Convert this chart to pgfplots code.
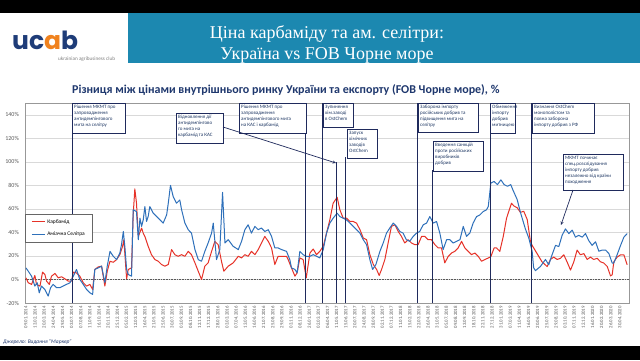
\documentclass[border=0pt]{standalone}
\usepackage{pgfplots}
\pgfplotsset{compat=1.18}
\usepackage{pgfplotstable}
\usetikzlibrary{arrows.meta}
\usepackage{fontspec}
\setmainfont{Carlito}
\newfontfamily\titlefont{Liberation Serif}
\newfontfamily\logofont{Poppins}
\definecolor{cred}{RGB}{230,50,40}
\definecolor{cblue}{RGB}{46,112,186}
\definecolor{navy}{RGB}{31,42,92}
\definecolor{boxtext}{RGB}{31,56,100}
\definecolor{titlebg}{RGB}{28,136,176}
\definecolor{subtc}{RGB}{31,56,110}
\definecolor{ticktc}{RGB}{89,89,89}
\definecolor{gridc}{RGB}{217,217,217}
\definecolor{logonavy}{RGB}{30,60,120}
\definecolor{logoorange}{RGB}{240,130,30}

\pgfplotstableread{
x y
0 1.4
1.3 -2.8
3.1 -4.2
4.9 3.4
5.8 -4.2
7.7 -5.6
9.1 6.2
10.4 4.2
11.3 -1.4
12.8 -4.2
14.0 2.8
15.9 5.1
17.7 1.4
19.5 2.3
21.3 0.6
23.2 -1.4
25.0 -1.4
25.9 6.2
27.7 5.6
29.5 2.8
31.4 -2.8
33.2 -5.6
35.0 -4.2
36.5 -8.5
37.7 8.5
39.6 10.7
41.4 11.3
43.2 -5.6
44.5 7.0
46.0 15.5
47.8 14.6
49.6 16.9
51.4 21.1
52.9 28.2
53.6 33.8
55.1 0.6
56.0 8.5
57.8 9.9
58.7 55
59.6 77
60.5 65
61.5 36.6
63.3 43.7
64.2 39.4
65.1 36.6
66.9 28.2
68.7 21.1
70.6 16.9
72.4 15.5
74.2 12.7
76.0 11.3
77.9 12.7
79.7 25.4
81.5 21.1
83.3 19.7
85.2 21.1
87.0 19.7
88.8 23.9
90.6 21.1
92.5 14.1
94.3 7.0
96.1 0
97.9 11.3
99.7 14.1
101.6 23.9
103.4 32.4
105.2 29.6
107.0 15.5
108.3 7.0
110.7 11.3
113.4 14.1
116.2 19.7
118.0 18.3
119.8 21.1
121.6 19.7
123.4 23.9
125.3 21.1
127.1 25.4
128.9 31.0
130.7 36.6
132.6 32.4
134.4 26.8
136.2 12.7
138.0 19.7
139.9 19.7
142.6 19.7
143.5 16.9
145.3 9.9
147.2 2.8
148.4 5.6
149.9 18.3
151.7 16.9
153.4 1.4
155.4 22.5
157.2 25.9
159.0 21.1
160.8 23.9
162.7 28.2
164.5 39.4
166.3 50.7
168.1 64.8
170.3 69.9
171.8 59.2
173.6 52.1
175.4 52.1
177.3 49.3
179.1 49.3
180.9 47.9
182.8 42.3
184.6 35.2
186.4 33.8
188.2 21.1
190.1 12.7
191.9 8.5
193.3 3.4
194.6 8.5
196.4 16.9
198.2 31.0
200.0 45.1
201.9 46.5
203.7 40.8
205.5 36.6
207.3 31.0
209.2 33.8
211.0 31.0
212.8 29.6
214.6 29.6
216.5 36.6
218.3 36.6
220.1 33.8
221.9 33.8
223.8 29.6
225.6 26.8
227.4 26.8
229.2 14.1
231.1 19.7
232.9 22.5
234.7 23.9
236.5 26.8
238.4 32.4
240.2 26.8
242.0 23.9
243.8 21.1
245.7 22.5
247.5 19.7
249.3 15.5
251.1 16.9
253.0 18.3
254.4 19.4
256.2 26.8
257.5 26.8
259.3 23.9
261.2 36.6
263.0 52.1
265.7 64.8
267.0 62.5
268.8 61
270.6 57
272.4 58
274.3 51
276.1 32
277.0 29
279.7 22
282.4 15
285.2 11
287.0 17
288.8 19
290.7 17
292.5 18
294.3 21
296.1 15
298.0 8
299.8 15
301.6 25
303.4 21
305.3 22
307.1 17
308.9 19
310.7 17
312.6 18
314.4 15
316.2 14
318.1 11
319.9 3
320.8 4
321.7 15
323.5 19
325.4 21
327.2 21
329.0 12.5
}\redtab

\pgfplotstableread{
x y
0 9.9
1.3 7.0
3.1 2.8
4.9 -5.6
6.2 -2.8
7.3 -11.3
8.5 -5.6
10.4 -8.5
12.2 -14.1
13.5 -7.0
14.9 -4.2
16.8 -7.0
18.6 -7.0
20.4 -5.6
22.2 -4.2
24.1 -2.8
25.9 2.8
27.7 8.5
29.5 0
31.4 -4.2
33.2 -8.5
35.0 -11.3
36.5 -12.7
37.7 8.5
39.6 9.9
41.4 11.3
43.2 -2.8
44.5 11.3
46.0 23.9
47.8 19.7
49.6 16.9
51.4 22.5
52.3 29.6
53.3 40.8
54.2 26.8
55.1 8.5
56.0 4.2
57.8 2.8
58.7 59.2
60.5 57.7
61.5 33.8
62.4 52.1
63.3 45.1
64.2 50.7
65.1 62.0
66.0 49.3
66.9 53.5
67.8 62.0
69.7 56.3
71.5 53.5
73.3 50.7
75.1 47.9
77.0 54.9
77.9 64.8
79.1 80
80.6 70.4
82.4 64.8
84.2 67.6
85.2 59.2
87.0 47.9
88.8 42.3
90.6 39.4
92.5 25.4
94.3 16.9
96.1 15.5
97.9 23.9
99.7 31.0
101.6 39.4
102.5 47.9
104.3 16.9
106.1 25.4
107.6 74
108.9 31.0
110.7 33.8
113.4 28.2
116.2 25.4
118.0 32.4
119.8 42.3
121.6 46.5
123.4 39.4
125.3 45.1
127.1 42.3
128.9 43.7
130.7 40.8
132.6 42.3
134.4 36.6
136.2 26.8
138.0 26.8
139.9 25.4
142.6 23.9
144.4 16.9
145.3 9.9
147.2 8.5
148.4 5.6
149.9 23.9
151.7 21.1
153.4 19.7
155.4 19.7
157.2 21.1
159.0 19.7
160.8 18.3
162.7 25.4
164.5 39.4
166.3 47.9
168.1 52.1
170.3 56.3
171.8 53.5
173.6 52.1
175.4 50.7
177.3 47.9
179.1 45.1
180.9 42.3
182.8 39.4
184.6 33.8
186.4 29.6
188.2 16.9
189.7 8.5
191.5 12.7
193.7 23.9
195.5 31.0
197.3 39.4
199.1 43.7
201.0 47.9
202.8 45.1
204.6 40.8
206.4 39.4
208.2 33.8
210.0 32.4
211.9 36.6
213.7 39.4
215.5 40.8
217.4 46.5
219.2 47.9
221.0 53.5
222.9 47.9
224.7 49.3
226.5 39.4
228.3 25.4
230.2 33.8
232.0 33.8
233.8 31.0
235.6 32.4
237.5 33.8
239.3 45.1
241.1 36.6
242.9 39.4
244.7 47.9
246.6 53.5
248.4 54.9
250.2 57.7
252.0 59.2
253.0 62
254.4 82
256.2 83.3
258.0 80.6
259.9 84.7
261.7 80.6
263.5 79.2
265.3 80.6
266.5 76
268.8 68
270.6 57
273.3 43
275.2 35
277.0 24
277.8 10
278.8 7.5
281.5 11
284.3 17
286.1 12.5
287.9 21
289.8 29
291.6 28
293.4 37.5
295.2 43
297.1 39
298.9 42
300.7 36
302.5 37.5
304.4 36
306.2 39
308.0 33
309.8 29
311.7 32
313.5 24
315.3 25
317.2 25
319.0 22
320.8 14
321.7 14
323.5 21
325.4 29
327.2 36
329.0 39
}\bluetab

\newcommand{\boxfont}{\fontsize{5}{6}\selectfont}
% x1 y1 x2 y2 in image pixels (y from top), text
\newcommand{\abox}[5]{%
  \draw[navy, fill=white, line width=0.8pt] (#1pt,{360pt-#2pt}) rectangle (#3pt,{360pt-#4pt});
  \node[anchor=north west, inner sep=0pt, align=left, font=\boxfont, text=boxtext] at ({#1pt+2pt},{360pt-#2pt-2pt}) {#5};}

\begin{document}
\begin{tikzpicture}
\useasboundingbox (0,0) rectangle (640pt,360pt);
\fill[black] (0,0) rectangle (640pt,360pt);
\fill[white] (0,14pt) rectangle (640pt,347pt);
\fill[titlebg] (128pt,297pt) rectangle (640pt,347pt);
\node[anchor=base, text=white, inner sep=0pt, font=\titlefont\fontsize{18}{20}\selectfont] at (327pt,321.7pt) {Ціна карбаміду та ам. селітри:};
\node[anchor=base, text=white, inner sep=0pt, font=\titlefont\fontsize{18}{20}\selectfont] at (327pt,300.7pt) {Україна vs FOB Чорне море};
\node[anchor=base west, inner sep=0pt, font=\logofont\bfseries\fontsize{25}{25}\selectfont] at (12pt,311pt) {\textcolor{logonavy}{uc}\textcolor{logoorange}{a}\textcolor{logonavy}{b}};
\node[anchor=base west, inner sep=0pt, text=gray, font=\fontsize{5.2}{6}\selectfont] at (58pt,299.5pt) {ukrainian agribusiness club};
\node[anchor=base west, inner sep=0pt, text=subtc, font=\bfseries\fontsize{12}{13}\selectfont] at (72pt,266.7pt) {Різниця між цінами внутрішнього ринку України та експорту (FOB Чорне море), \%};

\begin{axis}[
  at={(25pt,57pt)}, anchor=south west,
  width=604pt, height=200pt, scale only axis,
  xmin=-0.5, xmax=330, ymin=-20, ymax=150,
  axis line style={gridc!70!black, line width=0.6pt},
  ytick={-20,0,20,40,60,80,100,120,140},
  yticklabels={-20\%,0\%,20\%,40\%,60\%,80\%,100\%,120\%,140\%},
  ymajorgrids, grid style={gridc, line width=0.5pt},
  xtick={0,5,...,325},
  xticklabels={09.01.2014,13.02.2014,20.03.2014,24.04.2014,29.05.2014,03.07.2014,07.08.2014,11.09.2014,16.10.2014,20.11.2014,25.12.2014,05.02.2015,12.03.2015,16.04.2015,21.05.2015,25.06.2015,30.07.2015,03.09.2015,08.10.2015,12.11.2015,17.12.2015,28.01.2016,03.03.2016,07.04.2016,13.05.2016,16.06.2016,21.07.2016,25.08.2016,29.09.2016,03.11.2016,08.12.2016,26.01.2017,02.03.2017,06.04.2017,11.05.2017,15.06.2017,20.07.2017,24.08.2017,28.09.2017,02.11.2017,07.12.2017,11.01.2018,15.02.2018,22.03.2018,26.04.2018,31.05.2018,05.07.2018,09.08.2018,13.09.2018,18.10.2018,22.11.2018,27.12.2018,31.01.2019,07.03.2019,11.04.2019,16.05.2019,20.06.2019,25.07.2019,29.08.2019,03.10.2019,07.11.2019,12.12.2019,16.01.2020,20.02.2020,26.03.2020,30.04.2020},
  major tick length=0pt,
  tick label style={text=ticktc},
  yticklabel style={font=\fontsize{6}{7}\selectfont, anchor=east, inner sep=0pt, xshift=-6pt},
  xticklabel style={font=\fontsize{4.8}{5}\selectfont, rotate=90, anchor=east, inner sep=0pt},
  xticklabel shift=3pt,
  legend style={at={(axis description cs:0,0.445)}, anchor=north west, draw=gray!80!black, line width=0.6pt, fill=white, font=\fontsize{5.5}{6}\selectfont, inner xsep=6pt, inner ysep=3pt, row sep=3pt},
  legend cell align=left,
  legend image code/.code={\draw[#1, line width=1pt] (0pt,0pt) -- (13pt,0pt);},
]
\addplot[ticktc, line width=1.3pt, dash pattern=on 0.8pt off 0.8pt, forget plot] coordinates {(-0.5,0) (330,0)};
\addplot[cred, line width=1pt, line join=round] table[x=x,y=y] {\redtab};
\addlegendentry{Карбамід}
\addplot[cblue, line width=1pt, line join=round] table[x=x,y=y] {\bluetab};
\addlegendentry{Аміачна Селітра}
\draw[navy, line width=0.9pt] (axis cs:25.2,-20) -- (axis cs:25.2,150);
\draw[navy, line width=0.9pt] (axis cs:153.2,-20) -- (axis cs:153.2,150);
\draw[navy, line width=0.9pt] (axis cs:162.5,-20) -- (axis cs:162.5,150);
\draw[navy, line width=0.9pt] (axis cs:170.1,-20) -- (axis cs:170.1,99.6);
\draw[navy, line width=0.9pt] (axis cs:175.1,-20) -- (axis cs:175.1,103.8);
\draw[navy, line width=0.9pt] (axis cs:214.4,-20) -- (axis cs:214.4,150);
\draw[navy, line width=0.9pt] (axis cs:222.6,-20) -- (axis cs:222.6,92.8);
\draw[navy, line width=0.9pt] (axis cs:254.4,-20) -- (axis cs:254.4,150);
\draw[navy, line width=0.9pt] (axis cs:276.8,-20) -- (axis cs:276.8,150);
\end{axis}

\abox{72}{103}{125}{133}{Рішення МКМТ про\\запровадження\\антидемпінгового\\мита на селітру}
\abox{176}{113}{223}{143}{Відновлення дії\\антидемпінгово\\го мита на\\карбамід та КАС}
\abox{239}{103}{306}{133}{Рішення МКМТ про\\запровадження\\антидемпінгового мита\\на КАС і карбамід}
\abox{323}{103}{353}{127}{Зупинення\\хім.заводі\\в OstChem}
\abox{347}{129}{377}{158}{Запуск\\хімічних\\заводів\\OstChem}
\abox{418}{103}{478}{132}{Заборона імпорту\\російських добрив та\\підвищення мита на\\селітру}
\abox{433}{141}{483}{171}{Введення санкцій\\проти російських\\виробників\\добрив}
\abox{490}{103}{515}{133}{Обмеження\\імпорту\\добрив\\митницею}
\abox{532}{103}{594}{133}{Визнання OstChem\\монополістом та\\повна заборона\\імпорту добрив з РФ}
\abox{563}{154}{623}{190}{МКМТ починає\\спец.розслідування\\імпорту добрив\\незалежно від країни\\походження}
\draw[navy, line width=0.7pt, -{Stealth[length=3.5pt,width=3pt]}] (223pt,233pt) -- (336pt,197pt);
\draw[navy, line width=0.7pt, -{Stealth[length=3.5pt,width=3pt]}] (573pt,170pt) -- (561pt,135pt);

\node[anchor=base west, inner sep=0pt, text=subtc, font=\itshape\fontsize{5.5}{6}\selectfont] at (3pt,17pt) {Джерело: Видання "Маркер"};
\end{tikzpicture}
\end{document}
